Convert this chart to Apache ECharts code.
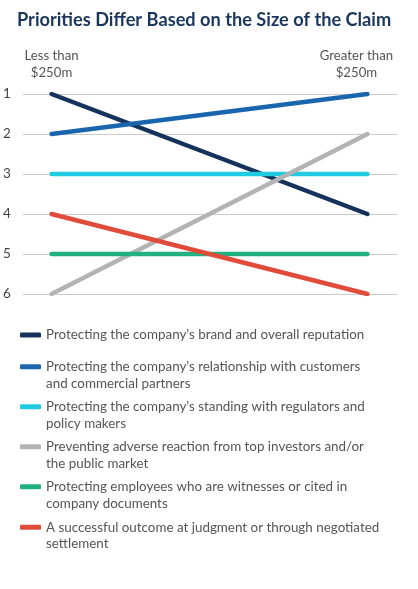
<!DOCTYPE html>
<html>
<head>
<meta charset="utf-8">
<script src="https://cdn.jsdelivr.net/npm/echarts@6/dist/echarts.min.js"></script>
<style>
html,body{margin:0;padding:0;background:#fff;}
#c{width:418px;height:589px;}
</style>
</head>
<body>
<div id="c"></div>
<script>
const title = 'Priorities Differ Based on the Size of the Claim';
const categories = ['Less than\n$250m', 'Greater than\n$250m'];
const rankTicks = [1, 2, 3, 4, 5, 6];
const seriesNames = [
  'Protecting the company’s brand and overall reputation',
  'Protecting the company’s relationship with customers and commercial partners',
  'Protecting the company’s standing with regulators and policy makers',
  'Preventing adverse reaction from top investors and/or the public market',
  'Protecting employees who are witnesses or cited in company documents',
  'A successful outcome at judgment or through negotiated settlement'
];
const legendLabels = [
  'Protecting the company’s brand and overall reputation',
  'Protecting the company’s relationship with customers\nand commercial partners',
  'Protecting the company’s standing with regulators and\npolicy makers',
  'Preventing adverse reaction from top investors and/or\nthe public market',
  'Protecting employees who are witnesses or cited in\ncompany documents',
  'A successful outcome at judgment or through negotiated\nsettlement'
];
const brandRanks = [1, 4];
const relationshipRanks = [2, 1];
const regulatorRanks = [3, 3];
const investorRanks = [6, 2];
const employeeRanks = [5, 5];
const outcomeRanks = [4, 6];
const allRanks = [brandRanks, relationshipRanks, regulatorRanks, investorRanks, employeeRanks, outcomeRanks];
const colors = ['#14325c', '#1a66ae', '#1ecbe0', '#b3b3b3', '#21b07f', '#e04b3a'];

const FONT = 'Lato';
const legendFirstLine = [335, 366.7, 406.7, 446.7, 486.7, 527.3];
const LH = 16.7;
const LFS = 13.4;

const legends = seriesNames.map((n, i) => {
  const two = legendLabels[i].indexOf('\n') >= 0;
  // two-line labels get an empty leading line so the first text line sits beside the icon
  const label = two ? '{e|}\n' + legendLabels[i].split('\n').map(s => '{t|' + s + '}').join('\n') : '{t|' + legendLabels[i] + '}';
  return {
    data: [n],
    left: 20,
    top: two ? legendFirstLine[i] - 1.5 * LH : legendFirstLine[i] - LH / 2,
    padding: 0,
    icon: 'roundRect',
    itemWidth: 21,
    itemHeight: 5,
    selectedMode: false,
    formatter: () => label,
    textStyle: {
      fontFamily: FONT, fontSize: LFS, color: '#555', lineHeight: LH,
      rich: {
        e: {fontFamily: FONT, fontSize: LFS, lineHeight: LH, height: LH},
        t: {fontFamily: FONT, fontSize: LFS, color: '#555', lineHeight: LH}
      }
    }
  };
});

const chart = echarts.init(document.getElementById('c'), null, {renderer: 'canvas'});
chart.setOption({
  animation: false,
  title: {
    text: title, left: 12, top: 6,
    textStyle: {fontFamily: FONT, fontSize: 18.2, fontWeight: 'bold', color: '#1b365d'}
  },
  legend: legends,
  grid: {left: 22, right: 18, top: 94, bottom: 295},
  xAxis: {
    type: 'value', position: 'top',
    min: -29 / 319, max: 1 + 30 / 319,
    axisLine: {show: false}, axisTick: {show: false}, splitLine: {show: false},
    axisLabel: {
      customValues: [0, 1],
      margin: 13,
      fontFamily: FONT, fontSize: 13.2, color: '#555', lineHeight: 17,
      formatter: v => {
        const idx = Math.round(v);
        const parts = categories[idx].split('\n');
        const key = idx === 0 ? 'l' : 'r';
        return parts.map(p => '{' + key + '|' + p + '}').join('\n');
      },
      rich: {
        l: {fontFamily: FONT, fontSize: 13.2, color: '#555', lineHeight: 17, padding: [0, 0, 0, 0]},
        r: {fontFamily: FONT, fontSize: 13.2, color: '#555', lineHeight: 17, padding: [0, 22, 0, 0]}
      }
    }
  },
  yAxis: {
    type: 'value', inverse: true, min: 1, max: 6, interval: 1,
    axisLine: {show: false}, axisTick: {show: false},
    axisLabel: {margin: 12, fontFamily: FONT, fontSize: 13.5, color: '#444',
      formatter: v => rankTicks.includes(v) ? String(v) : ''},
    splitLine: {lineStyle: {color: '#cccccc', width: 1}}
  },
  series: seriesNames.map((n, i) => ({
    name: n, type: 'line', symbol: 'none', color: colors[i],
    lineStyle: {width: 4.5, color: colors[i], cap: 'round'},
    data: allRanks[i].map((r, k) => [k, r])
  }))
});
</script>
</body>
</html>
